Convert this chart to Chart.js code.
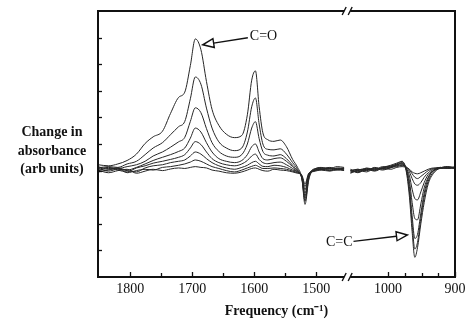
<!DOCTYPE html>
<html>
<head>
<meta charset="utf-8">
<script src="https://cdn.jsdelivr.net/npm/chart.js@4.4.0/dist/chart.umd.min.js"></script>
<style>
  html, body { margin: 0; padding: 0; background: #fff; }
  canvas { display: block; }
</style>
</head>
<body>
<canvas id="spectra" width="474" height="325"></canvas>
<script>
// frequencies in cm-1, the axis is broken between 1450 and 1061
let freqHigh = [1852, 1835, 1820, 1805, 1790, 1776, 1763, 1748, 1735, 1722, 1712, 1703, 1695, 1686, 1677, 1668, 1657, 1645, 1632, 1620,
  1611, 1604, 1598, 1592, 1586, 1578, 1568, 1558, 1548, 1538, 1530, 1523, 1518, 1512, 1505, 1492, 1478, 1466, 1455]
let freqLow = [1056, 1045, 1032, 1020, 1008, 996, 987, 979, 973, 968, 964, 960, 956, 951, 946, 940, 932, 922, 911, 900]

// change in absorbance, one trace per spectrum (largest first)
let trace1High = [0.22, 0.18, 0.25, 0.38, 0.62, 1.02, 1.27, 1.48, 2.15, 2.75, 2.95, 3.95, 4.95, 4.55, 3.35, 2.3, 1.7, 1.37, 1.24, 1.32,
  2.1, 3.4, 3.75, 2.4, 1.42, 1.16, 1.1, 1.15, 0.9, 0.42, 0.12, -0.3, -1.27, -0.35, 0.02, 0.1, 0.08, 0.15, 0.12]
let trace2High = [0.1, 0.15, 0.12, 0.25, 0.35, 0.6, 0.85, 1.05, 1.35, 1.65, 1.85, 2.7, 3.52, 3.25, 2.35, 1.6, 1.08, 0.85, 0.75, 0.85,
  1.45, 2.4, 2.73, 1.75, 1.0, 0.8, 0.78, 0.82, 0.62, 0.3, 0.05, -0.32, -1.15, -0.3, 0.0, 0.12, 0.05, 0.1, 0.08]
let trace3High = [0.05, 0.12, 0.08, 0.15, 0.22, 0.35, 0.55, 0.7, 0.88, 1.08, 1.25, 1.85, 2.36, 2.18, 1.58, 1.05, 0.72, 0.55, 0.5, 0.6,
  1.0, 1.6, 1.84, 1.2, 0.72, 0.58, 0.55, 0.6, 0.45, 0.2, 0.0, -0.3, -1.05, -0.25, 0.05, 0.08, 0.12, 0.06, 0.1]
let trace4High = [0.15, 0.05, 0.1, 0.02, 0.12, 0.25, 0.38, 0.5, 0.6, 0.72, 0.85, 1.22, 1.6, 1.45, 1.05, 0.7, 0.45, 0.35, 0.3, 0.38,
  0.6, 0.9, 1.0, 0.7, 0.45, 0.4, 0.45, 0.48, 0.35, 0.15, -0.02, -0.28, -0.95, -0.2, 0.0, 0.05, 0.1, 0.04, 0.08]
let trace5High = [0.0, 0.08, 0.02, -0.05, 0.1, 0.18, 0.28, 0.35, 0.42, 0.5, 0.6, 0.85, 1.09, 0.98, 0.7, 0.45, 0.3, 0.22, 0.18, 0.25,
  0.38, 0.55, 0.62, 0.42, 0.3, 0.26, 0.3, 0.32, 0.22, 0.08, -0.05, -0.25, -0.85, -0.18, -0.02, 0.06, 0.02, 0.08, 0.05]
let trace6High = [0.08, -0.02, 0.05, 0.0, -0.05, 0.1, 0.18, 0.22, 0.3, 0.35, 0.4, 0.55, 0.7, 0.62, 0.45, 0.3, 0.18, 0.1, 0.05, 0.12,
  0.2, 0.3, 0.35, 0.25, 0.16, 0.15, 0.2, 0.18, 0.12, 0.02, -0.05, -0.22, -0.72, -0.15, 0.0, 0.03, 0.08, 0.02, 0.06]
let trace7High = [-0.05, 0.02, 0.1, -0.08, 0.0, 0.05, 0.02, 0.12, 0.15, 0.2, 0.25, 0.32, 0.4, 0.35, 0.25, 0.15, 0.08, 0.0, -0.05, 0.02,
  0.1, 0.16, 0.2, 0.14, 0.08, 0.08, 0.1, 0.08, 0.05, -0.02, -0.08, -0.2, -0.6, -0.12, -0.02, 0.04, 0.0, 0.05, 0.02]
let trace8High = [0.02, -0.08, 0.0, 0.05, -0.1, -0.02, 0.05, 0.0, 0.06, 0.1, 0.08, 0.12, 0.15, 0.12, 0.1, 0.02, -0.02, -0.08, -0.1, -0.05,
  0.02, 0.08, 0.1, 0.05, 0.0, -0.02, 0.05, 0.02, 0.0, -0.05, -0.1, -0.18, -0.5, -0.1, -0.04, 0.02, -0.02, 0.03, 0.0]

let trace1Low = [-0.05, 0.02, 0.08, 0.05, 0.12, 0.2, 0.28, 0.35, 0.0, -1.0, -2.3, -3.26, -2.9, -2.0, -1.2, -0.5, -0.1, 0.1, 0.15, 0.1]
let trace2Low = [0.0, 0.05, 0.0, 0.1, 0.08, 0.15, 0.25, 0.33, 0.05, -0.8, -2.0, -2.95, -2.7, -1.8, -1.0, -0.4, -0.05, 0.12, 0.1, 0.15]
let trace3Low = [-0.08, 0.0, 0.05, 0.02, 0.15, 0.12, 0.2, 0.3, 0.05, -0.6, -1.7, -2.55, -2.4, -1.6, -0.85, -0.3, 0.0, 0.08, 0.15, 0.1]
let trace4Low = [0.05, -0.05, 0.1, 0.05, 0.1, 0.18, 0.22, 0.28, 0.08, -0.4, -1.2, -1.8, -1.85, -1.25, -0.65, -0.25, 0.02, 0.12, 0.08, 0.12]
let trace5Low = [-0.02, 0.05, 0.0, 0.12, 0.05, 0.1, 0.22, 0.25, 0.1, -0.2, -0.7, -1.05, -1.1, -0.8, -0.45, -0.15, 0.0, 0.1, 0.12, 0.08]
let trace6Low = [0.02, -0.08, 0.05, 0.0, 0.1, 0.15, 0.18, 0.22, 0.12, -0.05, -0.3, -0.5, -0.55, -0.45, -0.25, -0.08, 0.05, 0.08, 0.1, 0.12]
let trace7Low = [-0.1, 0.0, -0.05, 0.08, 0.02, 0.12, 0.15, 0.2, 0.15, 0.02, -0.12, -0.25, -0.3, -0.22, -0.12, 0.0, 0.08, 0.12, 0.08, 0.1]
let trace8Low = [0.0, -0.05, 0.05, -0.02, 0.08, 0.05, 0.12, 0.15, 0.12, 0.05, -0.05, -0.1, -0.12, -0.08, -0.02, 0.05, 0.1, 0.08, 0.12, 0.1]

let tickFreqs = [1800, 1750, 1700, 1650, 1600, 1550, 1500, 1000, 975, 950, 925, 900]
let tickLabels = ['1800', '', '1700', '', '1600', '', '1500', '1000', '', '', '', '900']

// broken axis: two linear pieces joined at the break
const START = 1852, BREAK_HIGH = 1450, BREAK_LOW = 1061
function toAxis(f) {
  if (f >= BREAK_HIGH) return (START - f) * 0.62
  return (START - BREAK_HIGH) * 0.62 + (BREAK_LOW - f) * 0.67
}
const breakPos = toAxis(BREAK_HIGH)

let highs = [trace1High, trace2High, trace3High, trace4High, trace5High, trace6High, trace7High, trace8High]
let lows = [trace1Low, trace2Low, trace3Low, trace4Low, trace5Low, trace6Low, trace7Low, trace8Low]

let datasets = highs.map((hi, k) => {
  let pts = freqHigh.map((f, i) => ({ x: toAxis(f), y: hi[i] }))
  pts.push({ x: breakPos, y: null })
  freqLow.forEach((f, i) => pts.push({ x: toAxis(f), y: lows[k][i] }))
  return {
    data: pts,
    borderColor: '#262626',
    borderWidth: 1,
    pointRadius: 0,
    cubicInterpolationMode: 'monotone',
    spanGaps: false
  }
})

const serif = '"Liberation Serif", "Times New Roman", serif'
Chart.defaults.font.family = serif
Chart.defaults.color = '#111'

function arrow(ctx, x0, y0, x1, y1) {
  let ang = Math.atan2(y1 - y0, x1 - x0)
  let len = 11, half = 4.5
  let bx = x1 - len * Math.cos(ang), by = y1 - len * Math.sin(ang)
  ctx.beginPath()
  ctx.moveTo(x0, y0)
  ctx.lineTo(bx, by)
  ctx.stroke()
  ctx.beginPath()
  ctx.moveTo(x1, y1)
  ctx.lineTo(bx + half * Math.sin(ang), by - half * Math.cos(ang))
  ctx.lineTo(bx - half * Math.sin(ang), by + half * Math.cos(ang))
  ctx.closePath()
  ctx.fillStyle = '#fff'
  ctx.fill()
  ctx.stroke()
}

const frame = {
  id: 'frame',
  afterDraw(chart) {
    const { ctx, chartArea: a, scales: { x, y } } = chart
    ctx.save()
    ctx.strokeStyle = '#111'
    ctx.lineWidth = 2
    ctx.strokeRect(a.left, a.top, a.right - a.left, a.bottom - a.top)

    // inward tick marks
    ctx.lineWidth = 1.3
    x.ticks.forEach((t, i) => {
      let px = Math.round(x.getPixelForValue(t.value)) + 0.5
      let len = tickLabels[i] ? 5 : 4
      ctx.beginPath()
      ctx.moveTo(px, a.bottom)
      ctx.lineTo(px, a.bottom - len)
      ctx.stroke()
    })
    y.ticks.forEach(t => {
      if (t.value <= y.min || t.value >= y.max) return
      let py = Math.round(y.getPixelForValue(t.value)) + 0.5
      ctx.beginPath()
      ctx.moveTo(a.left, py)
      ctx.lineTo(a.left + 4, py)
      ctx.stroke()
    })

    // break marks on top and bottom axes
    let bx = x.getPixelForValue(breakPos)
    ;[a.top, a.bottom].forEach(yy => {
      ctx.fillStyle = '#fff'
      ctx.fillRect(bx - 3, yy - 1.5, 6, 3)
      ctx.lineWidth = 1.4
      ctx.beginPath()
      ctx.moveTo(bx - 5, yy + 4); ctx.lineTo(bx - 1, yy - 4)
      ctx.moveTo(bx + 1, yy + 4); ctx.lineTo(bx + 5, yy - 4)
      ctx.stroke()
    })

    // y axis label, three horizontal lines
    ctx.fillStyle = '#111'
    ctx.font = 'bold 14px ' + serif
    ctx.textAlign = 'center'
    ctx.textBaseline = 'middle'
    ctx.fillText('Change in', 52, 132)
    ctx.fillText('absorbance', 52, 151)
    ctx.fillText('(arb units)', 52, 169)

    // peak annotations
    ctx.font = '14px ' + serif
    ctx.lineWidth = 1.4
    ctx.strokeStyle = '#111'
    let coX = x.getPixelForValue(toAxis(1607)), coY = y.getPixelForValue(5.03)
    ctx.textAlign = 'left'
    ctx.fillText('C=O', coX, coY)
    arrow(ctx, coX - 2, coY + 1, x.getPixelForValue(toAxis(1683)), y.getPixelForValue(4.73))

    let ccX = x.getPixelForValue(toAxis(1053)), ccY = y.getPixelForValue(-2.7)
    ctx.fillStyle = '#111'
    ctx.textAlign = 'right'
    ctx.fillText('C=C', ccX, ccY)
    arrow(ctx, ccX + 1, ccY - 1, x.getPixelForValue(toAxis(971)), y.getPixelForValue(-2.42))
    ctx.restore()
  }
}

new Chart(document.getElementById('spectra'), {
  type: 'line',
  data: { datasets: datasets },
  options: {
    responsive: false,
    animation: false,
    devicePixelRatio: 1,
    layout: { padding: { top: 11, right: 19, left: 0, bottom: 0 } },
    plugins: { legend: { display: false }, tooltip: { enabled: false } },
    scales: {
      x: {
        type: 'linear',
        min: 0,
        max: toAxis(900),
        afterBuildTicks: s => { s.ticks = tickFreqs.map(f => ({ value: toAxis(f) })) },
        afterFit: s => { s.height = 48 },
        grid: { display: false, drawTicks: false, tickLength: 0 },
        border: { display: false },
        ticks: {
          autoSkip: false, maxRotation: 0, padding: 4,
          font: { size: 14 },
          callback: (v, i) => tickLabels[i]
        },
        title: {
          display: true,
          text: 'Frequency (cm⁻¹)',
          padding: { top: 0, bottom: 5 },
          font: { size: 14, weight: 'bold', lineHeight: 1.2 }
        }
      },
      y: {
        min: -4,
        max: 6,
        afterFit: s => { s.width = 98 },
        grid: { display: false },
        border: { display: false },
        ticks: { display: false, stepSize: 1 }
      }
    }
  },
  plugins: [frame]
})
</script>
</body>
</html>
